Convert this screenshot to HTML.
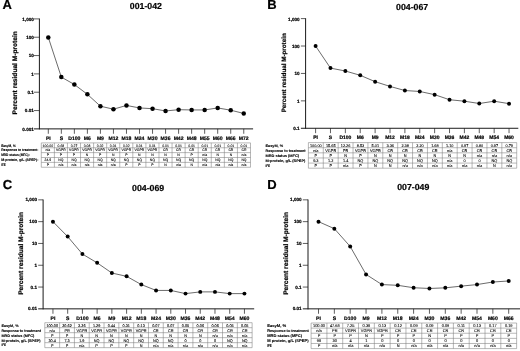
<!DOCTYPE html>
<html><head><meta charset="utf-8"><title>Figure</title>
<style>
html,body{margin:0;padding:0;background:#fff;overflow:hidden;}
svg{display:block;filter:blur(0.35px);}
text{font-family:"Liberation Sans", sans-serif;fill:#000;text-rendering:geometricPrecision;}
text.b{font-weight:bold;stroke:#000;stroke-width:0.2px;}
text.s{stroke-width:0.1px;}
text.n{font-weight:normal;stroke:#000;stroke-width:0.09px;}
</style></head><body>
<svg width="520" height="351" viewBox="0 0 520 351">
<rect width="520" height="351" fill="#fff"/>
<text class="b" x="2.50" y="9.00" font-size="13" text-anchor="start" >A</text>
<text class="b" x="145.90" y="9.40" font-size="8.75" text-anchor="middle" >001-042</text>
<text class="b" transform="translate(16.85,72.80) rotate(-90)" font-size="6.6" text-anchor="middle">Percent residual M-protein</text>
<line x1="39.40" y1="18.55" x2="39.40" y2="129.38" stroke="#1a1a1a" stroke-width="1.0"/>
<line x1="33.80" y1="128.88" x2="253.10" y2="128.88" stroke="#1a1a1a" stroke-width="1.0"/>
<line x1="33.80" y1="18.90" x2="39.40" y2="18.90" stroke="#1a1a1a" stroke-width="0.7"/>
<text class="b" x="33.80" y="20.80" font-size="4.6" text-anchor="end" >1,000</text>
<line x1="33.80" y1="37.23" x2="39.40" y2="37.23" stroke="#1a1a1a" stroke-width="0.7"/>
<text class="b" x="33.80" y="39.13" font-size="4.6" text-anchor="end" >100</text>
<line x1="33.80" y1="55.56" x2="39.40" y2="55.56" stroke="#1a1a1a" stroke-width="0.7"/>
<text class="b" x="33.80" y="57.46" font-size="4.6" text-anchor="end" >10</text>
<line x1="33.80" y1="73.89" x2="39.40" y2="73.89" stroke="#1a1a1a" stroke-width="0.7"/>
<text class="b" x="33.80" y="75.79" font-size="4.6" text-anchor="end" >1</text>
<line x1="33.80" y1="92.22" x2="39.40" y2="92.22" stroke="#1a1a1a" stroke-width="0.7"/>
<text class="b" x="33.80" y="94.12" font-size="4.6" text-anchor="end" >0.1</text>
<line x1="33.80" y1="110.55" x2="39.40" y2="110.55" stroke="#1a1a1a" stroke-width="0.7"/>
<text class="b" x="33.80" y="112.45" font-size="4.6" text-anchor="end" >0.01</text>
<text class="b" x="33.80" y="130.78" font-size="4.6" text-anchor="end" >0.001</text>
<line x1="48.30" y1="128.88" x2="48.30" y2="133.78" stroke="#1a1a1a" stroke-width="0.7"/>
<text class="b" x="48.30" y="139.58" font-size="5.1" text-anchor="middle" >PI</text>
<line x1="61.33" y1="128.88" x2="61.33" y2="133.78" stroke="#1a1a1a" stroke-width="0.7"/>
<text class="b" x="61.33" y="139.58" font-size="5.1" text-anchor="middle" >S</text>
<line x1="74.36" y1="128.88" x2="74.36" y2="133.78" stroke="#1a1a1a" stroke-width="0.7"/>
<text class="b" x="74.36" y="139.58" font-size="5.1" text-anchor="middle" >D100</text>
<line x1="87.39" y1="128.88" x2="87.39" y2="133.78" stroke="#1a1a1a" stroke-width="0.7"/>
<text class="b" x="87.39" y="139.58" font-size="5.1" text-anchor="middle" >M6</text>
<line x1="100.42" y1="128.88" x2="100.42" y2="133.78" stroke="#1a1a1a" stroke-width="0.7"/>
<text class="b" x="100.42" y="139.58" font-size="5.1" text-anchor="middle" >M9</text>
<line x1="113.45" y1="128.88" x2="113.45" y2="133.78" stroke="#1a1a1a" stroke-width="0.7"/>
<text class="b" x="113.45" y="139.58" font-size="5.1" text-anchor="middle" >M12</text>
<line x1="126.48" y1="128.88" x2="126.48" y2="133.78" stroke="#1a1a1a" stroke-width="0.7"/>
<text class="b" x="126.48" y="139.58" font-size="5.1" text-anchor="middle" >M18</text>
<line x1="139.51" y1="128.88" x2="139.51" y2="133.78" stroke="#1a1a1a" stroke-width="0.7"/>
<text class="b" x="139.51" y="139.58" font-size="5.1" text-anchor="middle" >M24</text>
<line x1="152.54" y1="128.88" x2="152.54" y2="133.78" stroke="#1a1a1a" stroke-width="0.7"/>
<text class="b" x="152.54" y="139.58" font-size="5.1" text-anchor="middle" >M30</text>
<line x1="165.57" y1="128.88" x2="165.57" y2="133.78" stroke="#1a1a1a" stroke-width="0.7"/>
<text class="b" x="165.57" y="139.58" font-size="5.1" text-anchor="middle" >M36</text>
<line x1="178.60" y1="128.88" x2="178.60" y2="133.78" stroke="#1a1a1a" stroke-width="0.7"/>
<text class="b" x="178.60" y="139.58" font-size="5.1" text-anchor="middle" >M42</text>
<line x1="191.63" y1="128.88" x2="191.63" y2="133.78" stroke="#1a1a1a" stroke-width="0.7"/>
<text class="b" x="191.63" y="139.58" font-size="5.1" text-anchor="middle" >M48</text>
<line x1="204.66" y1="128.88" x2="204.66" y2="133.78" stroke="#1a1a1a" stroke-width="0.7"/>
<text class="b" x="204.66" y="139.58" font-size="5.1" text-anchor="middle" >M55</text>
<line x1="217.69" y1="128.88" x2="217.69" y2="133.78" stroke="#1a1a1a" stroke-width="0.7"/>
<text class="b" x="217.69" y="139.58" font-size="5.1" text-anchor="middle" >M60</text>
<line x1="230.72" y1="128.88" x2="230.72" y2="133.78" stroke="#1a1a1a" stroke-width="0.7"/>
<text class="b" x="230.72" y="139.58" font-size="5.1" text-anchor="middle" >M66</text>
<line x1="243.75" y1="128.88" x2="243.75" y2="133.78" stroke="#1a1a1a" stroke-width="0.7"/>
<text class="b" x="243.75" y="139.58" font-size="5.1" text-anchor="middle" >M72</text>
<polyline points="48.30,37.40 61.33,77.10 74.36,84.50 87.39,94.30 100.42,106.20 113.45,109.20 126.48,105.45 139.51,107.95 152.54,108.70 165.57,110.95 178.60,109.70 191.63,109.95 204.66,109.95 217.69,107.95 230.72,110.20 243.75,113.45" fill="none" stroke="#2b2b2b" stroke-width="0.7"/>
<circle cx="48.30" cy="37.40" r="2.25" fill="#000"/>
<circle cx="61.33" cy="77.10" r="2.25" fill="#000"/>
<circle cx="74.36" cy="84.50" r="2.25" fill="#000"/>
<circle cx="87.39" cy="94.30" r="2.25" fill="#000"/>
<circle cx="100.42" cy="106.20" r="2.25" fill="#000"/>
<circle cx="113.45" cy="109.20" r="2.25" fill="#000"/>
<circle cx="126.48" cy="105.45" r="2.25" fill="#000"/>
<circle cx="139.51" cy="107.95" r="2.25" fill="#000"/>
<circle cx="152.54" cy="108.70" r="2.25" fill="#000"/>
<circle cx="165.57" cy="110.95" r="2.25" fill="#000"/>
<circle cx="178.60" cy="109.70" r="2.25" fill="#000"/>
<circle cx="191.63" cy="109.95" r="2.25" fill="#000"/>
<circle cx="204.66" cy="109.95" r="2.25" fill="#000"/>
<circle cx="217.69" cy="107.95" r="2.25" fill="#000"/>
<circle cx="230.72" cy="110.20" r="2.25" fill="#000"/>
<circle cx="243.75" cy="113.45" r="2.25" fill="#000"/>
<line x1="41.30" y1="142.90" x2="250.50" y2="142.90" stroke="#7c7c7c" stroke-width="0.55"/>
<line x1="41.30" y1="147.77" x2="250.50" y2="147.77" stroke="#7c7c7c" stroke-width="0.55"/>
<line x1="41.30" y1="152.64" x2="250.50" y2="152.64" stroke="#7c7c7c" stroke-width="0.55"/>
<line x1="41.30" y1="157.51" x2="250.50" y2="157.51" stroke="#7c7c7c" stroke-width="0.55"/>
<line x1="41.30" y1="162.38" x2="250.50" y2="162.38" stroke="#7c7c7c" stroke-width="0.55"/>
<line x1="41.30" y1="167.25" x2="250.50" y2="167.25" stroke="#7c7c7c" stroke-width="0.55"/>
<line x1="41.30" y1="142.90" x2="41.30" y2="167.25" stroke="#7c7c7c" stroke-width="0.55"/>
<line x1="54.38" y1="142.90" x2="54.38" y2="167.25" stroke="#7c7c7c" stroke-width="0.55"/>
<line x1="67.45" y1="142.90" x2="67.45" y2="167.25" stroke="#7c7c7c" stroke-width="0.55"/>
<line x1="80.52" y1="142.90" x2="80.52" y2="167.25" stroke="#7c7c7c" stroke-width="0.55"/>
<line x1="93.60" y1="142.90" x2="93.60" y2="167.25" stroke="#7c7c7c" stroke-width="0.55"/>
<line x1="106.67" y1="142.90" x2="106.67" y2="167.25" stroke="#7c7c7c" stroke-width="0.55"/>
<line x1="119.75" y1="142.90" x2="119.75" y2="167.25" stroke="#7c7c7c" stroke-width="0.55"/>
<line x1="132.82" y1="142.90" x2="132.82" y2="167.25" stroke="#7c7c7c" stroke-width="0.55"/>
<line x1="145.90" y1="142.90" x2="145.90" y2="167.25" stroke="#7c7c7c" stroke-width="0.55"/>
<line x1="158.97" y1="142.90" x2="158.97" y2="167.25" stroke="#7c7c7c" stroke-width="0.55"/>
<line x1="172.05" y1="142.90" x2="172.05" y2="167.25" stroke="#7c7c7c" stroke-width="0.55"/>
<line x1="185.12" y1="142.90" x2="185.12" y2="167.25" stroke="#7c7c7c" stroke-width="0.55"/>
<line x1="198.20" y1="142.90" x2="198.20" y2="167.25" stroke="#7c7c7c" stroke-width="0.55"/>
<line x1="211.27" y1="142.90" x2="211.27" y2="167.25" stroke="#7c7c7c" stroke-width="0.55"/>
<line x1="224.35" y1="142.90" x2="224.35" y2="167.25" stroke="#7c7c7c" stroke-width="0.55"/>
<line x1="237.43" y1="142.90" x2="237.43" y2="167.25" stroke="#7c7c7c" stroke-width="0.55"/>
<line x1="250.50" y1="142.90" x2="250.50" y2="167.25" stroke="#7c7c7c" stroke-width="0.55"/>
<text class="b s" x="1.15" y="147.00" font-size="3.5" text-anchor="start" textLength="14.7" lengthAdjust="spacingAndGlyphs">EasyM, %</text>
<text class="b s" x="1.15" y="151.47" font-size="3.5" text-anchor="start" textLength="37.2" lengthAdjust="spacingAndGlyphs">Response to treatment:</text>
<text class="b s" x="1.15" y="156.34" font-size="3.5" text-anchor="start" textLength="28.6" lengthAdjust="spacingAndGlyphs">MRD status (MFC):</text>
<text class="b s" x="1.15" y="161.20" font-size="3.5" text-anchor="start" textLength="37.2" lengthAdjust="spacingAndGlyphs">M-protein, g/L (SPEP):</text>
<text class="b s" x="1.15" y="166.07" font-size="3.5" text-anchor="start" textLength="4.4" lengthAdjust="spacingAndGlyphs">IFE</text>
<text class="n" x="47.84" y="146.98" font-size="3.45" text-anchor="middle" >100.00</text>
<text class="n" x="60.91" y="146.98" font-size="3.45" text-anchor="middle" >0.68</text>
<text class="n" x="73.99" y="146.98" font-size="3.45" text-anchor="middle" >0.27</text>
<text class="n" x="87.06" y="146.98" font-size="3.45" text-anchor="middle" >0.08</text>
<text class="n" x="100.14" y="146.98" font-size="3.45" text-anchor="middle" >0.02</text>
<text class="n" x="113.21" y="146.98" font-size="3.45" text-anchor="middle" >0.01</text>
<text class="n" x="126.29" y="146.98" font-size="3.45" text-anchor="middle" >0.02</text>
<text class="n" x="139.36" y="146.98" font-size="3.45" text-anchor="middle" >0.01</text>
<text class="n" x="152.44" y="146.98" font-size="3.45" text-anchor="middle" >0.01</text>
<text class="n" x="165.51" y="146.98" font-size="3.45" text-anchor="middle" >0.01</text>
<text class="n" x="178.59" y="146.98" font-size="3.45" text-anchor="middle" >0.01</text>
<text class="n" x="191.66" y="146.98" font-size="3.45" text-anchor="middle" >0.01</text>
<text class="n" x="204.74" y="146.98" font-size="3.45" text-anchor="middle" >0.01</text>
<text class="n" x="217.81" y="146.98" font-size="3.45" text-anchor="middle" >0.01</text>
<text class="n" x="230.89" y="146.98" font-size="3.45" text-anchor="middle" >0.01</text>
<text class="n" x="243.96" y="146.98" font-size="3.45" text-anchor="middle" >0.01</text>
<text class="n" x="47.84" y="151.45" font-size="3.45" text-anchor="middle" >n/a</text>
<text class="n" x="60.91" y="151.45" font-size="3.45" text-anchor="middle" >VGPR</text>
<text class="n" x="73.99" y="151.45" font-size="3.45" text-anchor="middle" >VGPR</text>
<text class="n" x="87.06" y="151.45" font-size="3.45" text-anchor="middle" >VGPR</text>
<text class="n" x="100.14" y="151.45" font-size="3.45" text-anchor="middle" >VGPR</text>
<text class="n" x="113.21" y="151.45" font-size="3.45" text-anchor="middle" >VGPR</text>
<text class="n" x="126.29" y="151.45" font-size="3.45" text-anchor="middle" >VGPR</text>
<text class="n" x="139.36" y="151.45" font-size="3.45" text-anchor="middle" >VGPR</text>
<text class="n" x="152.44" y="151.45" font-size="3.45" text-anchor="middle" >VGPR</text>
<text class="n" x="165.51" y="151.45" font-size="3.45" text-anchor="middle" >CR</text>
<text class="n" x="178.59" y="151.45" font-size="3.45" text-anchor="middle" >CR</text>
<text class="n" x="191.66" y="151.45" font-size="3.45" text-anchor="middle" >CR</text>
<text class="n" x="204.74" y="151.45" font-size="3.45" text-anchor="middle" >CR</text>
<text class="n" x="217.81" y="151.45" font-size="3.45" text-anchor="middle" >CR</text>
<text class="n" x="230.89" y="151.45" font-size="3.45" text-anchor="middle" >CR</text>
<text class="n" x="243.96" y="151.45" font-size="3.45" text-anchor="middle" >CR</text>
<text class="n" x="47.84" y="156.32" font-size="3.45" text-anchor="middle" >P</text>
<text class="n" x="60.91" y="156.32" font-size="3.45" text-anchor="middle" >P</text>
<text class="n" x="73.99" y="156.32" font-size="3.45" text-anchor="middle" >P</text>
<text class="n" x="87.06" y="156.32" font-size="3.45" text-anchor="middle" >N</text>
<text class="n" x="100.14" y="156.32" font-size="3.45" text-anchor="middle" >P</text>
<text class="n" x="113.21" y="156.32" font-size="3.45" text-anchor="middle" >N</text>
<text class="n" x="126.29" y="156.32" font-size="3.45" text-anchor="middle" >P</text>
<text class="n" x="139.36" y="156.32" font-size="3.45" text-anchor="middle" >N</text>
<text class="n" x="152.44" y="156.32" font-size="3.45" text-anchor="middle" >N</text>
<text class="n" x="165.51" y="156.32" font-size="3.45" text-anchor="middle" >N</text>
<text class="n" x="178.59" y="156.32" font-size="3.45" text-anchor="middle" >N</text>
<text class="n" x="191.66" y="156.32" font-size="3.45" text-anchor="middle" >P</text>
<text class="n" x="204.74" y="156.32" font-size="3.45" text-anchor="middle" >n/a</text>
<text class="n" x="217.81" y="156.32" font-size="3.45" text-anchor="middle" >N</text>
<text class="n" x="230.89" y="156.32" font-size="3.45" text-anchor="middle" >N</text>
<text class="n" x="243.96" y="156.32" font-size="3.45" text-anchor="middle" >n/a</text>
<text class="n" x="47.84" y="161.19" font-size="3.45" text-anchor="middle" >34.9</text>
<text class="n" x="60.91" y="161.19" font-size="3.45" text-anchor="middle" >NQ</text>
<text class="n" x="73.99" y="161.19" font-size="3.45" text-anchor="middle" >NQ</text>
<text class="n" x="87.06" y="161.19" font-size="3.45" text-anchor="middle" >NQ</text>
<text class="n" x="100.14" y="161.19" font-size="3.45" text-anchor="middle" >NQ</text>
<text class="n" x="113.21" y="161.19" font-size="3.45" text-anchor="middle" >NQ</text>
<text class="n" x="126.29" y="161.19" font-size="3.45" text-anchor="middle" >NQ</text>
<text class="n" x="139.36" y="161.19" font-size="3.45" text-anchor="middle" >NQ</text>
<text class="n" x="152.44" y="161.19" font-size="3.45" text-anchor="middle" >NQ</text>
<text class="n" x="165.51" y="161.19" font-size="3.45" text-anchor="middle" >NQ</text>
<text class="n" x="178.59" y="161.19" font-size="3.45" text-anchor="middle" >NQ</text>
<text class="n" x="191.66" y="161.19" font-size="3.45" text-anchor="middle" >NQ</text>
<text class="n" x="204.74" y="161.19" font-size="3.45" text-anchor="middle" >NQ</text>
<text class="n" x="217.81" y="161.19" font-size="3.45" text-anchor="middle" >NQ</text>
<text class="n" x="230.89" y="161.19" font-size="3.45" text-anchor="middle" >NQ</text>
<text class="n" x="243.96" y="161.19" font-size="3.45" text-anchor="middle" >NQ</text>
<text class="n" x="47.84" y="166.06" font-size="3.45" text-anchor="middle" >P</text>
<text class="n" x="60.91" y="166.06" font-size="3.45" text-anchor="middle" >n/a</text>
<text class="n" x="73.99" y="166.06" font-size="3.45" text-anchor="middle" >n/a</text>
<text class="n" x="87.06" y="166.06" font-size="3.45" text-anchor="middle" >n/a</text>
<text class="n" x="100.14" y="166.06" font-size="3.45" text-anchor="middle" >n/a</text>
<text class="n" x="113.21" y="166.06" font-size="3.45" text-anchor="middle" >n/a</text>
<text class="n" x="126.29" y="166.06" font-size="3.45" text-anchor="middle" >P</text>
<text class="n" x="139.36" y="166.06" font-size="3.45" text-anchor="middle" >P</text>
<text class="n" x="152.44" y="166.06" font-size="3.45" text-anchor="middle" >P</text>
<text class="n" x="165.51" y="166.06" font-size="3.45" text-anchor="middle" >N</text>
<text class="n" x="178.59" y="166.06" font-size="3.45" text-anchor="middle" >n/a</text>
<text class="n" x="191.66" y="166.06" font-size="3.45" text-anchor="middle" >N</text>
<text class="n" x="204.74" y="166.06" font-size="3.45" text-anchor="middle" >n/a</text>
<text class="n" x="217.81" y="166.06" font-size="3.45" text-anchor="middle" >n/a</text>
<text class="n" x="230.89" y="166.06" font-size="3.45" text-anchor="middle" >n/a</text>
<text class="n" x="243.96" y="166.06" font-size="3.45" text-anchor="middle" >n/a</text>
<text class="b" x="267.30" y="9.00" font-size="13" text-anchor="start" >B</text>
<text class="b" x="412.10" y="9.70" font-size="8.75" text-anchor="middle" >004-067</text>
<text class="b" transform="translate(285.70,72.80) rotate(-90)" font-size="6.28" text-anchor="middle">Percent residual M-protein</text>
<line x1="305.60" y1="18.25" x2="305.60" y2="128.78" stroke="#1a1a1a" stroke-width="1.0"/>
<line x1="300.90" y1="128.28" x2="518.30" y2="128.28" stroke="#1a1a1a" stroke-width="1.0"/>
<line x1="300.90" y1="18.60" x2="305.60" y2="18.60" stroke="#1a1a1a" stroke-width="0.7"/>
<text class="b" x="299.60" y="20.50" font-size="4.6" text-anchor="end" >1,000</text>
<line x1="300.90" y1="46.02" x2="305.60" y2="46.02" stroke="#1a1a1a" stroke-width="0.7"/>
<text class="b" x="299.60" y="47.92" font-size="4.6" text-anchor="end" >100</text>
<line x1="300.90" y1="73.44" x2="305.60" y2="73.44" stroke="#1a1a1a" stroke-width="0.7"/>
<text class="b" x="299.60" y="75.34" font-size="4.6" text-anchor="end" >10</text>
<line x1="300.90" y1="100.86" x2="305.60" y2="100.86" stroke="#1a1a1a" stroke-width="0.7"/>
<text class="b" x="299.60" y="102.76" font-size="4.6" text-anchor="end" >1</text>
<text class="b" x="299.60" y="130.18" font-size="4.6" text-anchor="end" >0.1</text>
<line x1="315.60" y1="128.28" x2="315.60" y2="133.18" stroke="#1a1a1a" stroke-width="0.7"/>
<text class="b" x="315.60" y="138.98" font-size="5.0" text-anchor="middle" >PI</text>
<line x1="330.48" y1="128.28" x2="330.48" y2="133.18" stroke="#1a1a1a" stroke-width="0.7"/>
<text class="b" x="330.48" y="138.98" font-size="5.0" text-anchor="middle" >S</text>
<line x1="345.36" y1="128.28" x2="345.36" y2="133.18" stroke="#1a1a1a" stroke-width="0.7"/>
<text class="b" x="345.36" y="138.98" font-size="5.0" text-anchor="middle" >D100</text>
<line x1="360.24" y1="128.28" x2="360.24" y2="133.18" stroke="#1a1a1a" stroke-width="0.7"/>
<text class="b" x="360.24" y="138.98" font-size="5.0" text-anchor="middle" >M6</text>
<line x1="375.12" y1="128.28" x2="375.12" y2="133.18" stroke="#1a1a1a" stroke-width="0.7"/>
<text class="b" x="375.12" y="138.98" font-size="5.0" text-anchor="middle" >M9</text>
<line x1="390.00" y1="128.28" x2="390.00" y2="133.18" stroke="#1a1a1a" stroke-width="0.7"/>
<text class="b" x="390.00" y="138.98" font-size="5.0" text-anchor="middle" >M12</text>
<line x1="404.88" y1="128.28" x2="404.88" y2="133.18" stroke="#1a1a1a" stroke-width="0.7"/>
<text class="b" x="404.88" y="138.98" font-size="5.0" text-anchor="middle" >M18</text>
<line x1="419.76" y1="128.28" x2="419.76" y2="133.18" stroke="#1a1a1a" stroke-width="0.7"/>
<text class="b" x="419.76" y="138.98" font-size="5.0" text-anchor="middle" >M24</text>
<line x1="434.64" y1="128.28" x2="434.64" y2="133.18" stroke="#1a1a1a" stroke-width="0.7"/>
<text class="b" x="434.64" y="138.98" font-size="5.0" text-anchor="middle" >M30</text>
<line x1="449.52" y1="128.28" x2="449.52" y2="133.18" stroke="#1a1a1a" stroke-width="0.7"/>
<text class="b" x="449.52" y="138.98" font-size="5.0" text-anchor="middle" >M36</text>
<line x1="464.40" y1="128.28" x2="464.40" y2="133.18" stroke="#1a1a1a" stroke-width="0.7"/>
<text class="b" x="464.40" y="138.98" font-size="5.0" text-anchor="middle" >M42</text>
<line x1="479.28" y1="128.28" x2="479.28" y2="133.18" stroke="#1a1a1a" stroke-width="0.7"/>
<text class="b" x="479.28" y="138.98" font-size="5.0" text-anchor="middle" >M48</text>
<line x1="494.16" y1="128.28" x2="494.16" y2="133.18" stroke="#1a1a1a" stroke-width="0.7"/>
<text class="b" x="494.16" y="138.98" font-size="5.0" text-anchor="middle" >M54</text>
<line x1="509.04" y1="128.28" x2="509.04" y2="133.18" stroke="#1a1a1a" stroke-width="0.7"/>
<text class="b" x="509.04" y="138.98" font-size="5.0" text-anchor="middle" >M60</text>
<polyline points="315.60,46.01 330.48,68.10 345.36,71.00 360.24,75.32 375.12,81.66 390.00,86.42 404.88,90.52 419.76,91.46 434.64,94.67 449.52,99.72 464.40,101.21 479.28,103.51 494.16,101.21 509.04,103.66" fill="none" stroke="#2b2b2b" stroke-width="0.7"/>
<circle cx="315.60" cy="46.01" r="1.98" fill="#000"/>
<circle cx="330.48" cy="68.10" r="1.98" fill="#000"/>
<circle cx="345.36" cy="71.00" r="1.98" fill="#000"/>
<circle cx="360.24" cy="75.32" r="1.98" fill="#000"/>
<circle cx="375.12" cy="81.66" r="1.98" fill="#000"/>
<circle cx="390.00" cy="86.42" r="1.98" fill="#000"/>
<circle cx="404.88" cy="90.52" r="1.98" fill="#000"/>
<circle cx="419.76" cy="91.46" r="1.98" fill="#000"/>
<circle cx="434.64" cy="94.67" r="1.98" fill="#000"/>
<circle cx="449.52" cy="99.72" r="1.98" fill="#000"/>
<circle cx="464.40" cy="101.21" r="1.98" fill="#000"/>
<circle cx="479.28" cy="103.51" r="1.98" fill="#000"/>
<circle cx="494.16" cy="101.21" r="1.98" fill="#000"/>
<circle cx="509.04" cy="103.66" r="1.98" fill="#000"/>
<line x1="308.40" y1="142.60" x2="516.72" y2="142.60" stroke="#7c7c7c" stroke-width="0.55"/>
<line x1="308.40" y1="147.72" x2="516.72" y2="147.72" stroke="#7c7c7c" stroke-width="0.55"/>
<line x1="308.40" y1="152.84" x2="516.72" y2="152.84" stroke="#7c7c7c" stroke-width="0.55"/>
<line x1="308.40" y1="157.96" x2="516.72" y2="157.96" stroke="#7c7c7c" stroke-width="0.55"/>
<line x1="308.40" y1="163.08" x2="516.72" y2="163.08" stroke="#7c7c7c" stroke-width="0.55"/>
<line x1="308.40" y1="168.20" x2="516.72" y2="168.20" stroke="#7c7c7c" stroke-width="0.55"/>
<line x1="308.40" y1="142.60" x2="308.40" y2="168.20" stroke="#7c7c7c" stroke-width="0.55"/>
<line x1="323.28" y1="142.60" x2="323.28" y2="168.20" stroke="#7c7c7c" stroke-width="0.55"/>
<line x1="338.16" y1="142.60" x2="338.16" y2="168.20" stroke="#7c7c7c" stroke-width="0.55"/>
<line x1="353.04" y1="142.60" x2="353.04" y2="168.20" stroke="#7c7c7c" stroke-width="0.55"/>
<line x1="367.92" y1="142.60" x2="367.92" y2="168.20" stroke="#7c7c7c" stroke-width="0.55"/>
<line x1="382.80" y1="142.60" x2="382.80" y2="168.20" stroke="#7c7c7c" stroke-width="0.55"/>
<line x1="397.68" y1="142.60" x2="397.68" y2="168.20" stroke="#7c7c7c" stroke-width="0.55"/>
<line x1="412.56" y1="142.60" x2="412.56" y2="168.20" stroke="#7c7c7c" stroke-width="0.55"/>
<line x1="427.44" y1="142.60" x2="427.44" y2="168.20" stroke="#7c7c7c" stroke-width="0.55"/>
<line x1="442.32" y1="142.60" x2="442.32" y2="168.20" stroke="#7c7c7c" stroke-width="0.55"/>
<line x1="457.20" y1="142.60" x2="457.20" y2="168.20" stroke="#7c7c7c" stroke-width="0.55"/>
<line x1="472.08" y1="142.60" x2="472.08" y2="168.20" stroke="#7c7c7c" stroke-width="0.55"/>
<line x1="486.96" y1="142.60" x2="486.96" y2="168.20" stroke="#7c7c7c" stroke-width="0.55"/>
<line x1="501.84" y1="142.60" x2="501.84" y2="168.20" stroke="#7c7c7c" stroke-width="0.55"/>
<line x1="516.72" y1="142.60" x2="516.72" y2="168.20" stroke="#7c7c7c" stroke-width="0.55"/>
<text class="b s" x="265.50" y="146.89" font-size="3.7" text-anchor="start" textLength="17.6" lengthAdjust="spacingAndGlyphs">EasyM, %</text>
<text class="b s" x="265.50" y="151.61" font-size="3.7" text-anchor="start" textLength="40.0" lengthAdjust="spacingAndGlyphs">Response to treatment</text>
<text class="b s" x="265.50" y="156.73" font-size="3.7" text-anchor="start" textLength="33.6" lengthAdjust="spacingAndGlyphs">MRD status (MFC)</text>
<text class="b s" x="265.50" y="161.85" font-size="3.7" text-anchor="start" textLength="39.8" lengthAdjust="spacingAndGlyphs">M-protein, g/L (SPEP)</text>
<text class="b s" x="265.50" y="166.97" font-size="3.7" text-anchor="start" textLength="4.5" lengthAdjust="spacingAndGlyphs">IFE</text>
<text class="n" x="315.84" y="146.95" font-size="3.85" text-anchor="middle" >100.00</text>
<text class="n" x="330.72" y="146.95" font-size="3.85" text-anchor="middle" >15.65</text>
<text class="n" x="345.60" y="146.95" font-size="3.85" text-anchor="middle" >12.26</text>
<text class="n" x="360.48" y="146.95" font-size="3.85" text-anchor="middle" >8.53</text>
<text class="n" x="375.36" y="146.95" font-size="3.85" text-anchor="middle" >5.01</text>
<text class="n" x="390.24" y="146.95" font-size="3.85" text-anchor="middle" >3.36</text>
<text class="n" x="405.12" y="146.95" font-size="3.85" text-anchor="middle" >2.38</text>
<text class="n" x="420.00" y="146.95" font-size="3.85" text-anchor="middle" >2.20</text>
<text class="n" x="434.88" y="146.95" font-size="3.85" text-anchor="middle" >1.68</text>
<text class="n" x="449.76" y="146.95" font-size="3.85" text-anchor="middle" >1.10</text>
<text class="n" x="464.64" y="146.95" font-size="3.85" text-anchor="middle" >0.97</text>
<text class="n" x="479.52" y="146.95" font-size="3.85" text-anchor="middle" >0.80</text>
<text class="n" x="494.40" y="146.95" font-size="3.85" text-anchor="middle" >0.97</text>
<text class="n" x="509.28" y="146.95" font-size="3.85" text-anchor="middle" >0.79</text>
<text class="n" x="315.84" y="151.67" font-size="3.85" text-anchor="middle" >n/a</text>
<text class="n" x="330.72" y="151.67" font-size="3.85" text-anchor="middle" >VGPR</text>
<text class="n" x="345.60" y="151.67" font-size="3.85" text-anchor="middle" >PR</text>
<text class="n" x="360.48" y="151.67" font-size="3.85" text-anchor="middle" >VGPR</text>
<text class="n" x="375.36" y="151.67" font-size="3.85" text-anchor="middle" >VGPR</text>
<text class="n" x="390.24" y="151.67" font-size="3.85" text-anchor="middle" >CR</text>
<text class="n" x="405.12" y="151.67" font-size="3.85" text-anchor="middle" >CR</text>
<text class="n" x="420.00" y="151.67" font-size="3.85" text-anchor="middle" >CR</text>
<text class="n" x="434.88" y="151.67" font-size="3.85" text-anchor="middle" >CR</text>
<text class="n" x="449.76" y="151.67" font-size="3.85" text-anchor="middle" >n/a</text>
<text class="n" x="464.64" y="151.67" font-size="3.85" text-anchor="middle" >CR</text>
<text class="n" x="479.52" y="151.67" font-size="3.85" text-anchor="middle" >CR</text>
<text class="n" x="494.40" y="151.67" font-size="3.85" text-anchor="middle" >CR</text>
<text class="n" x="509.28" y="151.67" font-size="3.85" text-anchor="middle" >CR</text>
<text class="n" x="315.84" y="156.79" font-size="3.85" text-anchor="middle" >P</text>
<text class="n" x="330.72" y="156.79" font-size="3.85" text-anchor="middle" >P</text>
<text class="n" x="345.60" y="156.79" font-size="3.85" text-anchor="middle" >N</text>
<text class="n" x="360.48" y="156.79" font-size="3.85" text-anchor="middle" >P</text>
<text class="n" x="375.36" y="156.79" font-size="3.85" text-anchor="middle" >N</text>
<text class="n" x="390.24" y="156.79" font-size="3.85" text-anchor="middle" >N</text>
<text class="n" x="405.12" y="156.79" font-size="3.85" text-anchor="middle" >N</text>
<text class="n" x="420.00" y="156.79" font-size="3.85" text-anchor="middle" >N</text>
<text class="n" x="434.88" y="156.79" font-size="3.85" text-anchor="middle" >N</text>
<text class="n" x="449.76" y="156.79" font-size="3.85" text-anchor="middle" >N</text>
<text class="n" x="464.64" y="156.79" font-size="3.85" text-anchor="middle" >N</text>
<text class="n" x="479.52" y="156.79" font-size="3.85" text-anchor="middle" >n/a</text>
<text class="n" x="494.40" y="156.79" font-size="3.85" text-anchor="middle" >n/a</text>
<text class="n" x="509.28" y="156.79" font-size="3.85" text-anchor="middle" >n/a</text>
<text class="n" x="315.84" y="161.91" font-size="3.85" text-anchor="middle" >9.3</text>
<text class="n" x="330.72" y="161.91" font-size="3.85" text-anchor="middle" >1.2</text>
<text class="n" x="345.60" y="161.91" font-size="3.85" text-anchor="middle" >1.4</text>
<text class="n" x="360.48" y="161.91" font-size="3.85" text-anchor="middle" >NQ</text>
<text class="n" x="375.36" y="161.91" font-size="3.85" text-anchor="middle" >NQ</text>
<text class="n" x="390.24" y="161.91" font-size="3.85" text-anchor="middle" >NQ</text>
<text class="n" x="405.12" y="161.91" font-size="3.85" text-anchor="middle" >NQ</text>
<text class="n" x="420.00" y="161.91" font-size="3.85" text-anchor="middle" >NQ</text>
<text class="n" x="434.88" y="161.91" font-size="3.85" text-anchor="middle" >NQ</text>
<text class="n" x="449.76" y="161.91" font-size="3.85" text-anchor="middle" >n/a</text>
<text class="n" x="464.64" y="161.91" font-size="3.85" text-anchor="middle" >0</text>
<text class="n" x="479.52" y="161.91" font-size="3.85" text-anchor="middle" >0</text>
<text class="n" x="494.40" y="161.91" font-size="3.85" text-anchor="middle" >NQ</text>
<text class="n" x="509.28" y="161.91" font-size="3.85" text-anchor="middle" >NQ</text>
<text class="n" x="315.84" y="167.03" font-size="3.85" text-anchor="middle" >P</text>
<text class="n" x="330.72" y="167.03" font-size="3.85" text-anchor="middle" >P</text>
<text class="n" x="345.60" y="167.03" font-size="3.85" text-anchor="middle" >n/a</text>
<text class="n" x="360.48" y="167.03" font-size="3.85" text-anchor="middle" >P</text>
<text class="n" x="375.36" y="167.03" font-size="3.85" text-anchor="middle" >N</text>
<text class="n" x="390.24" y="167.03" font-size="3.85" text-anchor="middle" >N</text>
<text class="n" x="405.12" y="167.03" font-size="3.85" text-anchor="middle" >n/a</text>
<text class="n" x="420.00" y="167.03" font-size="3.85" text-anchor="middle" >n/a</text>
<text class="n" x="434.88" y="167.03" font-size="3.85" text-anchor="middle" >n/a</text>
<text class="n" x="449.76" y="167.03" font-size="3.85" text-anchor="middle" >n/a</text>
<text class="n" x="464.64" y="167.03" font-size="3.85" text-anchor="middle" >n/a</text>
<text class="n" x="479.52" y="167.03" font-size="3.85" text-anchor="middle" >n/a</text>
<text class="n" x="494.40" y="167.03" font-size="3.85" text-anchor="middle" >N</text>
<text class="n" x="509.28" y="167.03" font-size="3.85" text-anchor="middle" >n/a</text>
<text class="b" x="2.80" y="189.40" font-size="13" text-anchor="start" >C</text>
<text class="b" x="148.10" y="191.00" font-size="8.75" text-anchor="middle" >004-069</text>
<text class="b" transform="translate(22.50,253.40) rotate(-90)" font-size="6.57" text-anchor="middle">Percent residual M-protein</text>
<line x1="43.10" y1="199.50" x2="43.10" y2="309.35" stroke="#1a1a1a" stroke-width="1.0"/>
<line x1="38.20" y1="308.85" x2="254.20" y2="308.85" stroke="#1a1a1a" stroke-width="1.0"/>
<line x1="38.20" y1="199.85" x2="43.10" y2="199.85" stroke="#1a1a1a" stroke-width="0.7"/>
<text class="b" x="37.00" y="201.30" font-size="4.6" text-anchor="end" >1,000</text>
<line x1="38.20" y1="221.65" x2="43.10" y2="221.65" stroke="#1a1a1a" stroke-width="0.7"/>
<text class="b" x="37.00" y="223.10" font-size="4.6" text-anchor="end" >100</text>
<line x1="38.20" y1="243.45" x2="43.10" y2="243.45" stroke="#1a1a1a" stroke-width="0.7"/>
<text class="b" x="37.00" y="244.90" font-size="4.6" text-anchor="end" >10</text>
<line x1="38.20" y1="265.25" x2="43.10" y2="265.25" stroke="#1a1a1a" stroke-width="0.7"/>
<text class="b" x="37.00" y="266.70" font-size="4.6" text-anchor="end" >1</text>
<line x1="38.20" y1="287.05" x2="43.10" y2="287.05" stroke="#1a1a1a" stroke-width="0.7"/>
<text class="b" x="37.00" y="288.50" font-size="4.6" text-anchor="end" >0.1</text>
<text class="b" x="37.00" y="310.30" font-size="4.6" text-anchor="end" >0.01</text>
<line x1="52.95" y1="308.85" x2="52.95" y2="313.75" stroke="#1a1a1a" stroke-width="0.7"/>
<text class="b" x="52.95" y="319.55" font-size="5.1" text-anchor="middle" >PI</text>
<line x1="67.68" y1="308.85" x2="67.68" y2="313.75" stroke="#1a1a1a" stroke-width="0.7"/>
<text class="b" x="67.68" y="319.55" font-size="5.1" text-anchor="middle" >S</text>
<line x1="82.41" y1="308.85" x2="82.41" y2="313.75" stroke="#1a1a1a" stroke-width="0.7"/>
<text class="b" x="82.41" y="319.55" font-size="5.1" text-anchor="middle" >D100</text>
<line x1="97.14" y1="308.85" x2="97.14" y2="313.75" stroke="#1a1a1a" stroke-width="0.7"/>
<text class="b" x="97.14" y="319.55" font-size="5.1" text-anchor="middle" >M6</text>
<line x1="111.87" y1="308.85" x2="111.87" y2="313.75" stroke="#1a1a1a" stroke-width="0.7"/>
<text class="b" x="111.87" y="319.55" font-size="5.1" text-anchor="middle" >M9</text>
<line x1="126.60" y1="308.85" x2="126.60" y2="313.75" stroke="#1a1a1a" stroke-width="0.7"/>
<text class="b" x="126.60" y="319.55" font-size="5.1" text-anchor="middle" >M12</text>
<line x1="141.33" y1="308.85" x2="141.33" y2="313.75" stroke="#1a1a1a" stroke-width="0.7"/>
<text class="b" x="141.33" y="319.55" font-size="5.1" text-anchor="middle" >M18</text>
<line x1="156.06" y1="308.85" x2="156.06" y2="313.75" stroke="#1a1a1a" stroke-width="0.7"/>
<text class="b" x="156.06" y="319.55" font-size="5.1" text-anchor="middle" >M24</text>
<line x1="170.79" y1="308.85" x2="170.79" y2="313.75" stroke="#1a1a1a" stroke-width="0.7"/>
<text class="b" x="170.79" y="319.55" font-size="5.1" text-anchor="middle" >M30</text>
<line x1="185.52" y1="308.85" x2="185.52" y2="313.75" stroke="#1a1a1a" stroke-width="0.7"/>
<text class="b" x="185.52" y="319.55" font-size="5.1" text-anchor="middle" >M36</text>
<line x1="200.25" y1="308.85" x2="200.25" y2="313.75" stroke="#1a1a1a" stroke-width="0.7"/>
<text class="b" x="200.25" y="319.55" font-size="5.1" text-anchor="middle" >M42</text>
<line x1="214.98" y1="308.85" x2="214.98" y2="313.75" stroke="#1a1a1a" stroke-width="0.7"/>
<text class="b" x="214.98" y="319.55" font-size="5.1" text-anchor="middle" >M48</text>
<line x1="229.71" y1="308.85" x2="229.71" y2="313.75" stroke="#1a1a1a" stroke-width="0.7"/>
<text class="b" x="229.71" y="319.55" font-size="5.1" text-anchor="middle" >M54</text>
<line x1="244.44" y1="308.85" x2="244.44" y2="313.75" stroke="#1a1a1a" stroke-width="0.7"/>
<text class="b" x="244.44" y="319.55" font-size="5.1" text-anchor="middle" >M60</text>
<polyline points="52.95,221.65 67.68,236.60 82.41,254.06 97.14,262.84 111.87,273.02 126.60,276.34 141.33,284.57 156.06,290.43 170.79,290.43 185.52,293.61 200.25,291.89 214.98,291.89 229.71,293.61 244.44,293.61" fill="none" stroke="#2b2b2b" stroke-width="0.7"/>
<circle cx="52.95" cy="221.65" r="1.98" fill="#000"/>
<circle cx="67.68" cy="236.60" r="1.98" fill="#000"/>
<circle cx="82.41" cy="254.06" r="1.98" fill="#000"/>
<circle cx="97.14" cy="262.84" r="1.98" fill="#000"/>
<circle cx="111.87" cy="273.02" r="1.98" fill="#000"/>
<circle cx="126.60" cy="276.34" r="1.98" fill="#000"/>
<circle cx="141.33" cy="284.57" r="1.98" fill="#000"/>
<circle cx="156.06" cy="290.43" r="1.98" fill="#000"/>
<circle cx="170.79" cy="290.43" r="1.98" fill="#000"/>
<circle cx="185.52" cy="293.61" r="1.98" fill="#000"/>
<circle cx="200.25" cy="291.89" r="1.98" fill="#000"/>
<circle cx="214.98" cy="291.89" r="1.98" fill="#000"/>
<circle cx="229.71" cy="293.61" r="1.98" fill="#000"/>
<circle cx="244.44" cy="293.61" r="1.98" fill="#000"/>
<line x1="44.80" y1="322.70" x2="252.14" y2="322.70" stroke="#7c7c7c" stroke-width="0.55"/>
<line x1="44.80" y1="327.69" x2="252.14" y2="327.69" stroke="#7c7c7c" stroke-width="0.55"/>
<line x1="44.80" y1="332.68" x2="252.14" y2="332.68" stroke="#7c7c7c" stroke-width="0.55"/>
<line x1="44.80" y1="337.67" x2="252.14" y2="337.67" stroke="#7c7c7c" stroke-width="0.55"/>
<line x1="44.80" y1="342.66" x2="252.14" y2="342.66" stroke="#7c7c7c" stroke-width="0.55"/>
<line x1="44.80" y1="347.65" x2="252.14" y2="347.65" stroke="#7c7c7c" stroke-width="0.55"/>
<line x1="44.80" y1="322.70" x2="44.80" y2="347.65" stroke="#7c7c7c" stroke-width="0.55"/>
<line x1="59.61" y1="322.70" x2="59.61" y2="347.65" stroke="#7c7c7c" stroke-width="0.55"/>
<line x1="74.42" y1="322.70" x2="74.42" y2="347.65" stroke="#7c7c7c" stroke-width="0.55"/>
<line x1="89.23" y1="322.70" x2="89.23" y2="347.65" stroke="#7c7c7c" stroke-width="0.55"/>
<line x1="104.04" y1="322.70" x2="104.04" y2="347.65" stroke="#7c7c7c" stroke-width="0.55"/>
<line x1="118.85" y1="322.70" x2="118.85" y2="347.65" stroke="#7c7c7c" stroke-width="0.55"/>
<line x1="133.66" y1="322.70" x2="133.66" y2="347.65" stroke="#7c7c7c" stroke-width="0.55"/>
<line x1="148.47" y1="322.70" x2="148.47" y2="347.65" stroke="#7c7c7c" stroke-width="0.55"/>
<line x1="163.28" y1="322.70" x2="163.28" y2="347.65" stroke="#7c7c7c" stroke-width="0.55"/>
<line x1="178.09" y1="322.70" x2="178.09" y2="347.65" stroke="#7c7c7c" stroke-width="0.55"/>
<line x1="192.90" y1="322.70" x2="192.90" y2="347.65" stroke="#7c7c7c" stroke-width="0.55"/>
<line x1="207.71" y1="322.70" x2="207.71" y2="347.65" stroke="#7c7c7c" stroke-width="0.55"/>
<line x1="222.52" y1="322.70" x2="222.52" y2="347.65" stroke="#7c7c7c" stroke-width="0.55"/>
<line x1="237.33" y1="322.70" x2="237.33" y2="347.65" stroke="#7c7c7c" stroke-width="0.55"/>
<line x1="252.14" y1="322.70" x2="252.14" y2="347.65" stroke="#7c7c7c" stroke-width="0.55"/>
<text class="b s" x="1.40" y="326.93" font-size="3.7" text-anchor="start" textLength="17.2" lengthAdjust="spacingAndGlyphs">EasyM, %</text>
<text class="b s" x="1.40" y="331.52" font-size="3.7" text-anchor="start" textLength="39.5" lengthAdjust="spacingAndGlyphs">Response to treatment</text>
<text class="b s" x="1.40" y="336.51" font-size="3.7" text-anchor="start" textLength="32.8" lengthAdjust="spacingAndGlyphs">MRD status (MFC)</text>
<text class="b s" x="1.40" y="341.50" font-size="3.7" text-anchor="start" textLength="39.2" lengthAdjust="spacingAndGlyphs">M-protein, g/L (SPEP)</text>
<text class="b s" x="1.40" y="346.49" font-size="3.7" text-anchor="start" textLength="4.4" lengthAdjust="spacingAndGlyphs">IFE</text>
<text class="n" x="52.20" y="326.96" font-size="3.8" text-anchor="middle" >100.00</text>
<text class="n" x="67.02" y="326.96" font-size="3.8" text-anchor="middle" >20.62</text>
<text class="n" x="81.82" y="326.96" font-size="3.8" text-anchor="middle" >3.26</text>
<text class="n" x="96.63" y="326.96" font-size="3.8" text-anchor="middle" >1.29</text>
<text class="n" x="111.44" y="326.96" font-size="3.8" text-anchor="middle" >0.44</text>
<text class="n" x="126.25" y="326.96" font-size="3.8" text-anchor="middle" >0.31</text>
<text class="n" x="141.06" y="326.96" font-size="3.8" text-anchor="middle" >0.13</text>
<text class="n" x="155.88" y="326.96" font-size="3.8" text-anchor="middle" >0.07</text>
<text class="n" x="170.69" y="326.96" font-size="3.8" text-anchor="middle" >0.07</text>
<text class="n" x="185.50" y="326.96" font-size="3.8" text-anchor="middle" >0.05</text>
<text class="n" x="200.31" y="326.96" font-size="3.8" text-anchor="middle" >0.06</text>
<text class="n" x="215.12" y="326.96" font-size="3.8" text-anchor="middle" >0.06</text>
<text class="n" x="229.93" y="326.96" font-size="3.8" text-anchor="middle" >0.05</text>
<text class="n" x="244.74" y="326.96" font-size="3.8" text-anchor="middle" >0.05</text>
<text class="n" x="52.20" y="331.55" font-size="3.8" text-anchor="middle" >n/a</text>
<text class="n" x="67.02" y="331.55" font-size="3.8" text-anchor="middle" >PR</text>
<text class="n" x="81.82" y="331.55" font-size="3.8" text-anchor="middle" >VGPR</text>
<text class="n" x="96.63" y="331.55" font-size="3.8" text-anchor="middle" >VGPR</text>
<text class="n" x="111.44" y="331.55" font-size="3.8" text-anchor="middle" >VGPR</text>
<text class="n" x="126.25" y="331.55" font-size="3.8" text-anchor="middle" >VGPR</text>
<text class="n" x="141.06" y="331.55" font-size="3.8" text-anchor="middle" >VGPR</text>
<text class="n" x="155.88" y="331.55" font-size="3.8" text-anchor="middle" >CR</text>
<text class="n" x="170.69" y="331.55" font-size="3.8" text-anchor="middle" >CR</text>
<text class="n" x="185.50" y="331.55" font-size="3.8" text-anchor="middle" >CR</text>
<text class="n" x="200.31" y="331.55" font-size="3.8" text-anchor="middle" >CR</text>
<text class="n" x="215.12" y="331.55" font-size="3.8" text-anchor="middle" >CR</text>
<text class="n" x="229.93" y="331.55" font-size="3.8" text-anchor="middle" >CR</text>
<text class="n" x="244.74" y="331.55" font-size="3.8" text-anchor="middle" >CR</text>
<text class="n" x="52.20" y="336.54" font-size="3.8" text-anchor="middle" >P</text>
<text class="n" x="67.02" y="336.54" font-size="3.8" text-anchor="middle" >P</text>
<text class="n" x="81.82" y="336.54" font-size="3.8" text-anchor="middle" >N</text>
<text class="n" x="96.63" y="336.54" font-size="3.8" text-anchor="middle" >N</text>
<text class="n" x="111.44" y="336.54" font-size="3.8" text-anchor="middle" >N</text>
<text class="n" x="126.25" y="336.54" font-size="3.8" text-anchor="middle" >N</text>
<text class="n" x="141.06" y="336.54" font-size="3.8" text-anchor="middle" >N</text>
<text class="n" x="155.88" y="336.54" font-size="3.8" text-anchor="middle" >N</text>
<text class="n" x="170.69" y="336.54" font-size="3.8" text-anchor="middle" >N</text>
<text class="n" x="185.50" y="336.54" font-size="3.8" text-anchor="middle" >N</text>
<text class="n" x="200.31" y="336.54" font-size="3.8" text-anchor="middle" >N</text>
<text class="n" x="215.12" y="336.54" font-size="3.8" text-anchor="middle" >n/a</text>
<text class="n" x="229.93" y="336.54" font-size="3.8" text-anchor="middle" >n/a</text>
<text class="n" x="244.74" y="336.54" font-size="3.8" text-anchor="middle" >n/a</text>
<text class="n" x="52.20" y="341.53" font-size="3.8" text-anchor="middle" >30.4</text>
<text class="n" x="67.02" y="341.53" font-size="3.8" text-anchor="middle" >7.3</text>
<text class="n" x="81.82" y="341.53" font-size="3.8" text-anchor="middle" >1.9</text>
<text class="n" x="96.63" y="341.53" font-size="3.8" text-anchor="middle" >NQ</text>
<text class="n" x="111.44" y="341.53" font-size="3.8" text-anchor="middle" >NQ</text>
<text class="n" x="126.25" y="341.53" font-size="3.8" text-anchor="middle" >NQ</text>
<text class="n" x="141.06" y="341.53" font-size="3.8" text-anchor="middle" >NQ</text>
<text class="n" x="155.88" y="341.53" font-size="3.8" text-anchor="middle" >NQ</text>
<text class="n" x="170.69" y="341.53" font-size="3.8" text-anchor="middle" >NQ</text>
<text class="n" x="185.50" y="341.53" font-size="3.8" text-anchor="middle" >0</text>
<text class="n" x="200.31" y="341.53" font-size="3.8" text-anchor="middle" >0</text>
<text class="n" x="215.12" y="341.53" font-size="3.8" text-anchor="middle" >0</text>
<text class="n" x="229.93" y="341.53" font-size="3.8" text-anchor="middle" >NQ</text>
<text class="n" x="244.74" y="341.53" font-size="3.8" text-anchor="middle" >NQ</text>
<text class="n" x="52.20" y="346.52" font-size="3.8" text-anchor="middle" >P</text>
<text class="n" x="67.02" y="346.52" font-size="3.8" text-anchor="middle" >P</text>
<text class="n" x="81.82" y="346.52" font-size="3.8" text-anchor="middle" >n/a</text>
<text class="n" x="96.63" y="346.52" font-size="3.8" text-anchor="middle" >P</text>
<text class="n" x="111.44" y="346.52" font-size="3.8" text-anchor="middle" >P</text>
<text class="n" x="126.25" y="346.52" font-size="3.8" text-anchor="middle" >P</text>
<text class="n" x="141.06" y="346.52" font-size="3.8" text-anchor="middle" >N</text>
<text class="n" x="155.88" y="346.52" font-size="3.8" text-anchor="middle" >n/a</text>
<text class="n" x="170.69" y="346.52" font-size="3.8" text-anchor="middle" >n/a</text>
<text class="n" x="185.50" y="346.52" font-size="3.8" text-anchor="middle" >n/a</text>
<text class="n" x="200.31" y="346.52" font-size="3.8" text-anchor="middle" >n/a</text>
<text class="n" x="215.12" y="346.52" font-size="3.8" text-anchor="middle" >n/a</text>
<text class="n" x="229.93" y="346.52" font-size="3.8" text-anchor="middle" >n/a</text>
<text class="n" x="244.74" y="346.52" font-size="3.8" text-anchor="middle" >n/a</text>
<text class="b" x="267.20" y="189.45" font-size="13" text-anchor="start" >D</text>
<text class="b" x="413.30" y="190.40" font-size="8.75" text-anchor="middle" >007-049</text>
<text class="b" transform="translate(287.50,253.40) rotate(-90)" font-size="6.57" text-anchor="middle">Percent residual M-protein</text>
<line x1="308.00" y1="199.50" x2="308.00" y2="309.35" stroke="#1a1a1a" stroke-width="1.0"/>
<line x1="302.80" y1="308.85" x2="520.00" y2="308.85" stroke="#1a1a1a" stroke-width="1.0"/>
<line x1="302.80" y1="199.85" x2="308.00" y2="199.85" stroke="#1a1a1a" stroke-width="0.7"/>
<text class="b" x="301.60" y="201.30" font-size="4.6" text-anchor="end" >1,000</text>
<line x1="302.80" y1="221.65" x2="308.00" y2="221.65" stroke="#1a1a1a" stroke-width="0.7"/>
<text class="b" x="301.60" y="223.10" font-size="4.6" text-anchor="end" >100</text>
<line x1="302.80" y1="243.45" x2="308.00" y2="243.45" stroke="#1a1a1a" stroke-width="0.7"/>
<text class="b" x="301.60" y="244.90" font-size="4.6" text-anchor="end" >10</text>
<line x1="302.80" y1="265.25" x2="308.00" y2="265.25" stroke="#1a1a1a" stroke-width="0.7"/>
<text class="b" x="301.60" y="266.70" font-size="4.6" text-anchor="end" >1</text>
<line x1="302.80" y1="287.05" x2="308.00" y2="287.05" stroke="#1a1a1a" stroke-width="0.7"/>
<text class="b" x="301.60" y="288.50" font-size="4.6" text-anchor="end" >0.1</text>
<text class="b" x="301.60" y="310.30" font-size="4.6" text-anchor="end" >0.01</text>
<line x1="318.50" y1="308.85" x2="318.50" y2="313.75" stroke="#1a1a1a" stroke-width="0.7"/>
<text class="b" x="318.50" y="319.55" font-size="5.1" text-anchor="middle" >PI</text>
<line x1="334.35" y1="308.85" x2="334.35" y2="313.75" stroke="#1a1a1a" stroke-width="0.7"/>
<text class="b" x="334.35" y="319.55" font-size="5.1" text-anchor="middle" >S</text>
<line x1="350.20" y1="308.85" x2="350.20" y2="313.75" stroke="#1a1a1a" stroke-width="0.7"/>
<text class="b" x="350.20" y="319.55" font-size="5.1" text-anchor="middle" >D100</text>
<line x1="366.05" y1="308.85" x2="366.05" y2="313.75" stroke="#1a1a1a" stroke-width="0.7"/>
<text class="b" x="366.05" y="319.55" font-size="5.1" text-anchor="middle" >M9</text>
<line x1="381.90" y1="308.85" x2="381.90" y2="313.75" stroke="#1a1a1a" stroke-width="0.7"/>
<text class="b" x="381.90" y="319.55" font-size="5.1" text-anchor="middle" >M12</text>
<line x1="397.75" y1="308.85" x2="397.75" y2="313.75" stroke="#1a1a1a" stroke-width="0.7"/>
<text class="b" x="397.75" y="319.55" font-size="5.1" text-anchor="middle" >M18</text>
<line x1="413.60" y1="308.85" x2="413.60" y2="313.75" stroke="#1a1a1a" stroke-width="0.7"/>
<text class="b" x="413.60" y="319.55" font-size="5.1" text-anchor="middle" >M24</text>
<line x1="429.45" y1="308.85" x2="429.45" y2="313.75" stroke="#1a1a1a" stroke-width="0.7"/>
<text class="b" x="429.45" y="319.55" font-size="5.1" text-anchor="middle" >M30</text>
<line x1="445.30" y1="308.85" x2="445.30" y2="313.75" stroke="#1a1a1a" stroke-width="0.7"/>
<text class="b" x="445.30" y="319.55" font-size="5.1" text-anchor="middle" >M36</text>
<line x1="461.15" y1="308.85" x2="461.15" y2="313.75" stroke="#1a1a1a" stroke-width="0.7"/>
<text class="b" x="461.15" y="319.55" font-size="5.1" text-anchor="middle" >M42</text>
<line x1="477.00" y1="308.85" x2="477.00" y2="313.75" stroke="#1a1a1a" stroke-width="0.7"/>
<text class="b" x="477.00" y="319.55" font-size="5.1" text-anchor="middle" >M54</text>
<line x1="492.85" y1="308.85" x2="492.85" y2="313.75" stroke="#1a1a1a" stroke-width="0.7"/>
<text class="b" x="492.85" y="319.55" font-size="5.1" text-anchor="middle" >M60</text>
<line x1="508.70" y1="308.85" x2="508.70" y2="313.75" stroke="#1a1a1a" stroke-width="0.7"/>
<text class="b" x="508.70" y="319.55" font-size="5.1" text-anchor="middle" >M66</text>
<polyline points="318.50,221.65 334.35,228.66 350.20,246.49 366.05,274.41 381.90,284.57 397.75,285.32 413.60,287.74 429.45,288.48 445.30,287.84 461.15,286.15 477.00,284.57 492.85,282.03 508.70,280.97" fill="none" stroke="#2b2b2b" stroke-width="0.7"/>
<circle cx="318.50" cy="221.65" r="1.98" fill="#000"/>
<circle cx="334.35" cy="228.66" r="1.98" fill="#000"/>
<circle cx="350.20" cy="246.49" r="1.98" fill="#000"/>
<circle cx="366.05" cy="274.41" r="1.98" fill="#000"/>
<circle cx="381.90" cy="284.57" r="1.98" fill="#000"/>
<circle cx="397.75" cy="285.32" r="1.98" fill="#000"/>
<circle cx="413.60" cy="287.74" r="1.98" fill="#000"/>
<circle cx="429.45" cy="288.48" r="1.98" fill="#000"/>
<circle cx="445.30" cy="287.84" r="1.98" fill="#000"/>
<circle cx="461.15" cy="286.15" r="1.98" fill="#000"/>
<circle cx="477.00" cy="284.57" r="1.98" fill="#000"/>
<circle cx="492.85" cy="282.03" r="1.98" fill="#000"/>
<circle cx="508.70" cy="280.97" r="1.98" fill="#000"/>
<line x1="311.10" y1="323.00" x2="516.63" y2="323.00" stroke="#7c7c7c" stroke-width="0.55"/>
<line x1="311.10" y1="328.12" x2="516.63" y2="328.12" stroke="#7c7c7c" stroke-width="0.55"/>
<line x1="311.10" y1="333.24" x2="516.63" y2="333.24" stroke="#7c7c7c" stroke-width="0.55"/>
<line x1="311.10" y1="338.36" x2="516.63" y2="338.36" stroke="#7c7c7c" stroke-width="0.55"/>
<line x1="311.10" y1="343.48" x2="516.63" y2="343.48" stroke="#7c7c7c" stroke-width="0.55"/>
<line x1="311.10" y1="348.60" x2="516.63" y2="348.60" stroke="#7c7c7c" stroke-width="0.55"/>
<line x1="311.10" y1="323.00" x2="311.10" y2="348.60" stroke="#7c7c7c" stroke-width="0.55"/>
<line x1="326.91" y1="323.00" x2="326.91" y2="348.60" stroke="#7c7c7c" stroke-width="0.55"/>
<line x1="342.72" y1="323.00" x2="342.72" y2="348.60" stroke="#7c7c7c" stroke-width="0.55"/>
<line x1="358.53" y1="323.00" x2="358.53" y2="348.60" stroke="#7c7c7c" stroke-width="0.55"/>
<line x1="374.34" y1="323.00" x2="374.34" y2="348.60" stroke="#7c7c7c" stroke-width="0.55"/>
<line x1="390.15" y1="323.00" x2="390.15" y2="348.60" stroke="#7c7c7c" stroke-width="0.55"/>
<line x1="405.96" y1="323.00" x2="405.96" y2="348.60" stroke="#7c7c7c" stroke-width="0.55"/>
<line x1="421.77" y1="323.00" x2="421.77" y2="348.60" stroke="#7c7c7c" stroke-width="0.55"/>
<line x1="437.58" y1="323.00" x2="437.58" y2="348.60" stroke="#7c7c7c" stroke-width="0.55"/>
<line x1="453.39" y1="323.00" x2="453.39" y2="348.60" stroke="#7c7c7c" stroke-width="0.55"/>
<line x1="469.20" y1="323.00" x2="469.20" y2="348.60" stroke="#7c7c7c" stroke-width="0.55"/>
<line x1="485.01" y1="323.00" x2="485.01" y2="348.60" stroke="#7c7c7c" stroke-width="0.55"/>
<line x1="500.82" y1="323.00" x2="500.82" y2="348.60" stroke="#7c7c7c" stroke-width="0.55"/>
<line x1="516.63" y1="323.00" x2="516.63" y2="348.60" stroke="#7c7c7c" stroke-width="0.55"/>
<text class="b s" x="267.20" y="327.35" font-size="3.85" text-anchor="start" textLength="19.0" lengthAdjust="spacingAndGlyphs">EasyM, %</text>
<text class="b s" x="267.20" y="332.07" font-size="3.85" text-anchor="start" textLength="41.6" lengthAdjust="spacingAndGlyphs">Response to treatment</text>
<text class="b s" x="267.20" y="337.19" font-size="3.85" text-anchor="start" textLength="34.9" lengthAdjust="spacingAndGlyphs">MRD status (MFC)</text>
<text class="b s" x="267.20" y="342.31" font-size="3.85" text-anchor="start" textLength="41.4" lengthAdjust="spacingAndGlyphs">M protein, g/L (SPEP)</text>
<text class="b s" x="267.20" y="347.43" font-size="3.85" text-anchor="start" textLength="4.4" lengthAdjust="spacingAndGlyphs">IFE</text>
<text class="n" x="319.00" y="327.38" font-size="3.95" text-anchor="middle" >100.00</text>
<text class="n" x="334.81" y="327.38" font-size="3.95" text-anchor="middle" >47.68</text>
<text class="n" x="350.62" y="327.38" font-size="3.95" text-anchor="middle" >7.25</text>
<text class="n" x="366.44" y="327.38" font-size="3.95" text-anchor="middle" >0.38</text>
<text class="n" x="382.25" y="327.38" font-size="3.95" text-anchor="middle" >0.13</text>
<text class="n" x="398.06" y="327.38" font-size="3.95" text-anchor="middle" >0.12</text>
<text class="n" x="413.87" y="327.38" font-size="3.95" text-anchor="middle" >0.09</text>
<text class="n" x="429.68" y="327.38" font-size="3.95" text-anchor="middle" >0.09</text>
<text class="n" x="445.49" y="327.38" font-size="3.95" text-anchor="middle" >0.09</text>
<text class="n" x="461.30" y="327.38" font-size="3.95" text-anchor="middle" >0.11</text>
<text class="n" x="477.11" y="327.38" font-size="3.95" text-anchor="middle" >0.13</text>
<text class="n" x="492.92" y="327.38" font-size="3.95" text-anchor="middle" >0.17</text>
<text class="n" x="508.73" y="327.38" font-size="3.95" text-anchor="middle" >0.19</text>
<text class="n" x="319.00" y="332.10" font-size="3.95" text-anchor="middle" >n/a</text>
<text class="n" x="334.81" y="332.10" font-size="3.95" text-anchor="middle" >PR</text>
<text class="n" x="350.62" y="332.10" font-size="3.95" text-anchor="middle" >VGPR</text>
<text class="n" x="366.44" y="332.10" font-size="3.95" text-anchor="middle" >VGPR</text>
<text class="n" x="382.25" y="332.10" font-size="3.95" text-anchor="middle" >VGPR</text>
<text class="n" x="398.06" y="332.10" font-size="3.95" text-anchor="middle" >CR</text>
<text class="n" x="413.87" y="332.10" font-size="3.95" text-anchor="middle" >CR</text>
<text class="n" x="429.68" y="332.10" font-size="3.95" text-anchor="middle" >CR</text>
<text class="n" x="445.49" y="332.10" font-size="3.95" text-anchor="middle" >CR</text>
<text class="n" x="461.30" y="332.10" font-size="3.95" text-anchor="middle" >CR</text>
<text class="n" x="477.11" y="332.10" font-size="3.95" text-anchor="middle" >CR</text>
<text class="n" x="492.92" y="332.10" font-size="3.95" text-anchor="middle" >CR</text>
<text class="n" x="508.73" y="332.10" font-size="3.95" text-anchor="middle" >CR</text>
<text class="n" x="319.00" y="337.22" font-size="3.95" text-anchor="middle" >P</text>
<text class="n" x="334.81" y="337.22" font-size="3.95" text-anchor="middle" >P</text>
<text class="n" x="350.62" y="337.22" font-size="3.95" text-anchor="middle" >P</text>
<text class="n" x="366.44" y="337.22" font-size="3.95" text-anchor="middle" >N</text>
<text class="n" x="382.25" y="337.22" font-size="3.95" text-anchor="middle" >P</text>
<text class="n" x="398.06" y="337.22" font-size="3.95" text-anchor="middle" >P</text>
<text class="n" x="413.87" y="337.22" font-size="3.95" text-anchor="middle" >P</text>
<text class="n" x="429.68" y="337.22" font-size="3.95" text-anchor="middle" >N</text>
<text class="n" x="445.49" y="337.22" font-size="3.95" text-anchor="middle" >P</text>
<text class="n" x="461.30" y="337.22" font-size="3.95" text-anchor="middle" >P</text>
<text class="n" x="477.11" y="337.22" font-size="3.95" text-anchor="middle" >P</text>
<text class="n" x="492.92" y="337.22" font-size="3.95" text-anchor="middle" >P</text>
<text class="n" x="508.73" y="337.22" font-size="3.95" text-anchor="middle" >P</text>
<text class="n" x="319.00" y="342.34" font-size="3.95" text-anchor="middle" >98</text>
<text class="n" x="334.81" y="342.34" font-size="3.95" text-anchor="middle" >30</text>
<text class="n" x="350.62" y="342.34" font-size="3.95" text-anchor="middle" >4</text>
<text class="n" x="366.44" y="342.34" font-size="3.95" text-anchor="middle" >1</text>
<text class="n" x="382.25" y="342.34" font-size="3.95" text-anchor="middle" >0</text>
<text class="n" x="398.06" y="342.34" font-size="3.95" text-anchor="middle" >0</text>
<text class="n" x="413.87" y="342.34" font-size="3.95" text-anchor="middle" >0</text>
<text class="n" x="429.68" y="342.34" font-size="3.95" text-anchor="middle" >0</text>
<text class="n" x="445.49" y="342.34" font-size="3.95" text-anchor="middle" >0</text>
<text class="n" x="461.30" y="342.34" font-size="3.95" text-anchor="middle" >0</text>
<text class="n" x="477.11" y="342.34" font-size="3.95" text-anchor="middle" >0</text>
<text class="n" x="492.92" y="342.34" font-size="3.95" text-anchor="middle" >0</text>
<text class="n" x="508.73" y="342.34" font-size="3.95" text-anchor="middle" >0</text>
<text class="n" x="319.00" y="347.46" font-size="3.95" text-anchor="middle" >P</text>
<text class="n" x="334.81" y="347.46" font-size="3.95" text-anchor="middle" >n/a</text>
<text class="n" x="350.62" y="347.46" font-size="3.95" text-anchor="middle" >n/a</text>
<text class="n" x="366.44" y="347.46" font-size="3.95" text-anchor="middle" >n/a</text>
<text class="n" x="382.25" y="347.46" font-size="3.95" text-anchor="middle" >n/a</text>
<text class="n" x="398.06" y="347.46" font-size="3.95" text-anchor="middle" >N</text>
<text class="n" x="413.87" y="347.46" font-size="3.95" text-anchor="middle" >n/a</text>
<text class="n" x="429.68" y="347.46" font-size="3.95" text-anchor="middle" >n/a</text>
<text class="n" x="445.49" y="347.46" font-size="3.95" text-anchor="middle" >n/a</text>
<text class="n" x="461.30" y="347.46" font-size="3.95" text-anchor="middle" >n/a</text>
<text class="n" x="477.11" y="347.46" font-size="3.95" text-anchor="middle" >n/a</text>
<text class="n" x="492.92" y="347.46" font-size="3.95" text-anchor="middle" >n/a</text>
<text class="n" x="508.73" y="347.46" font-size="3.95" text-anchor="middle" >n/a</text>
</svg>
</body></html>
